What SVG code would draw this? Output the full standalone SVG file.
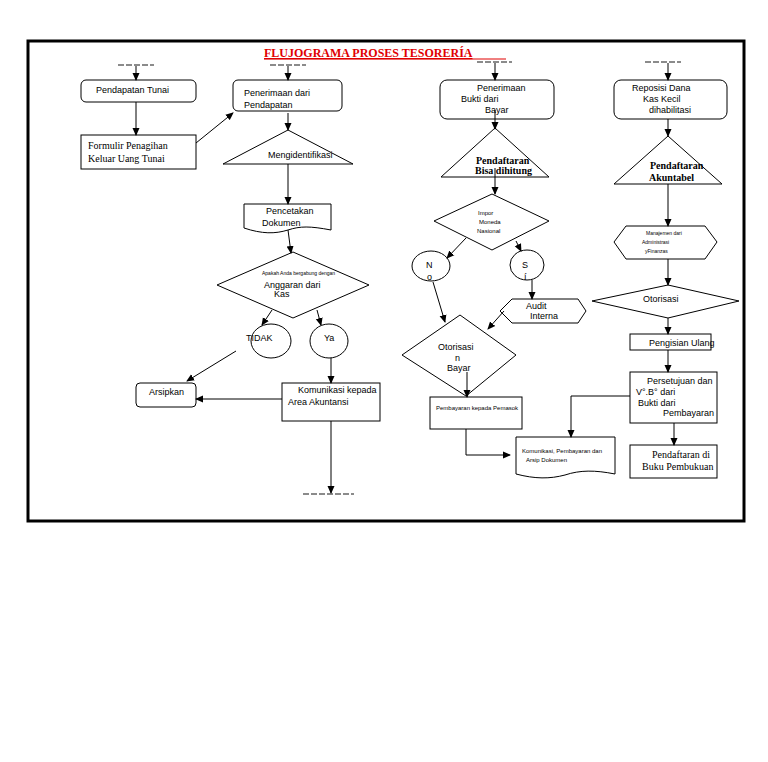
<svg xmlns="http://www.w3.org/2000/svg" width="768" height="762" viewBox="0 0 768 762">
<defs>
<marker id="ah" markerWidth="8" markerHeight="8" refX="7" refY="4" orient="auto" markerUnits="userSpaceOnUse"><path d="M0,0.5 L8,4 L0,7.5 z" fill="#000"/></marker>
<style>
.s{fill:#fff;stroke:#000;stroke-width:1}
.t{font-family:"Liberation Sans",Arial,sans-serif;font-size:9px;fill:#000}
.sm{font-size:6px}
.xs{font-size:5px}
.sf{font-family:"Liberation Serif","Times New Roman",serif;font-size:10px;fill:#000}
.b{font-weight:bold}
.c line,.c path,.c polyline{stroke:#000;stroke-width:1;fill:none}
.d{stroke:#666;stroke-width:1.5;stroke-dasharray:6,2;fill:none}
</style>
</defs>
<rect width="768" height="762" fill="#fff"/>
<rect x="28" y="41" width="716" height="480" fill="#fff" stroke="#000" stroke-width="3"/>
<text x="264" y="57" font-family="Liberation Serif,serif" font-size="12" font-weight="bold" fill="#e00000" text-decoration="underline">FLUJOGRAMA PROSES TESORERÍA</text>
<line x1="264" y1="59" x2="506" y2="59" stroke="#e00000" stroke-width="1"/>
<g id="dashes">
<line class="d" x1="118" y1="65" x2="154" y2="65"/><line class="d" x1="270" y1="65" x2="306" y2="65"/>
<line class="d" x1="477" y1="62" x2="512" y2="62"/><line class="d" x1="645" y1="62" x2="681" y2="62"/>
<line class="d" x1="303" y1="494" x2="354" y2="494"/>
</g>
<g id="n1"><rect class="s" x="81" y="80" width="115" height="22" rx="5"/><text class="t" x="96" y="93">Pendapatan Tunai</text></g>
<g id="n2"><rect class="s" x="81" y="135" width="115" height="34"/><text class="sf" x="88" y="149">Formulir Penagihan</text><text class="sf" x="88" y="162">Keluar Uang Tunai</text></g>
<g id="n3"><rect class="s" x="233" y="80" width="109" height="31" rx="5"/><text class="t" x="244" y="96">Penerimaan dari</text><text class="t" x="244" y="108">Pendapatan</text></g>
<g id="n4"><polygon class="s" points="288,130 353,164 223,164"/><text class="t" x="268" y="158">Mengidentifikasi</text></g>
<g id="n5"><path class="s" d="M244,204 H331 V230 C310,226 300,226 288,230 C275,234 262,234 244,228 Z"/><text class="t" x="266" y="214">Pencetakan</text><text class="t" x="262" y="226">Dokumen</text></g>
<g id="n6"><polygon class="s" points="293,252 369,285 293,318 217,285"/><text class="t xs" x="262" y="275">Apakah Anda bergabung dengan</text><text class="t" x="264" y="288">Anggaran dari</text><text class="t" x="274" y="297">Kas</text></g>
<g id="n7"><ellipse class="s" cx="271" cy="341" rx="20" ry="17"/><text class="t" x="246" y="341">TIDAK</text></g>
<g id="n8"><ellipse class="s" cx="329" cy="341" rx="19" ry="17"/><text class="t" x="324" y="341">Ya</text></g>
<g id="n9"><rect class="s" x="282" y="383" width="98" height="38"/><text class="t" x="298" y="393">Komunikasi kepada</text><text class="t" x="288" y="405">Area Akuntansi</text></g>
<g id="n10"><rect class="s" x="136" y="383" width="60" height="24" rx="4"/><text class="t" x="149" y="395">Arsipkan</text></g>
<g id="n11"><rect class="s" x="440" y="80" width="114" height="39" rx="7"/><text class="t" x="477" y="91">Penerimaan</text><text class="t" x="461" y="102">Bukti dari</text><text class="t" x="485" y="113">Bayar</text></g>
<g id="n12"><polygon class="s" points="495,128 549,177 441,177"/><text class="sf b" x="476" y="164" font-size="9">Pendaftaran</text><text class="sf b" x="475" y="174" font-size="9">Bisa dihitung</text></g>
<g id="n13"><polygon class="s" points="492,194 549,221 492,250 434,221"/><text class="t sm" x="478" y="215">Impor</text><text class="t sm" x="479" y="224">Moneda</text><text class="t sm" x="477" y="233">Nasional</text></g>
<g id="n14"><ellipse class="s" cx="431" cy="266" rx="19" ry="15"/><text class="t" x="426" y="268" font-size="11">N</text><text class="t" x="427" y="280" font-size="11">o</text></g>
<g id="n15"><ellipse class="s" cx="527" cy="265" rx="17" ry="15"/><text class="t" x="522" y="268" font-size="11">S</text><text class="t" x="524" y="280" font-size="11">í</text></g>
<g id="n16"><polygon class="s" points="500,311 512,299 578,299 586,311 578,323 512,323"/><text class="t" x="526" y="309">Audit</text><text class="t" x="530" y="319">Interna</text></g>
<g id="n17"><polygon class="s" points="460,315 516,355 466,396 402,355"/><text class="t" x="438" y="350">Otorisasi</text><text class="t" x="455" y="361">n</text><text class="t" x="447" y="371">Bayar</text></g>
<g id="n18"><rect class="s" x="430" y="397" width="92" height="32"/><text class="t sm" x="436" y="410">Pembayaran kepada Pemasok</text></g>
<g id="n19"><path class="s" d="M516,437 H615 V474 C595,470 580,470 565,475 C550,479 535,479 516,474 Z"/><text class="t sm" x="522" y="453">Komunikasi, Pembayaran dan</text><text class="t sm" x="526" y="462">Arsip Dokumen</text></g>
<g id="n20"><rect class="s" x="614" y="80" width="113" height="39" rx="7"/><text class="t" x="632" y="91">Reposisi Dana</text><text class="t" x="643" y="102">Kas Kecil</text><text class="t" x="649" y="113">dihabilitasi</text></g>
<g id="n21"><polygon class="s" points="668,136 722,184 614,184"/><text class="sf b" x="650" y="169" font-size="9">Pendaftaran</text><text class="sf b" x="649" y="181" font-size="9">Akuntabel</text></g>
<g id="n22"><polygon class="s" points="614,242 626,226 705,226 717,242 705,259 626,259"/><text class="t xs" x="646" y="235">Manajemen dari</text><text class="t xs" x="642" y="244">Administrasi</text><text class="t xs" x="645" y="253">yFinanzas</text></g>
<g id="n23"><polygon class="s" points="668,285 739,301 668,318 592,301"/><text class="t" x="643" y="302">Otorisasi</text></g>
<g id="n24"><rect class="s" x="630" y="334" width="81" height="16"/><text class="t" x="649" y="346">Pengisian Ulang</text></g>
<g id="n25"><rect class="s" x="630" y="372" width="87" height="51"/><text class="t" x="647" y="384">Persetujuan dan</text><text class="t" x="636" y="395">V°.B° dari</text><text class="t" x="638" y="406">Bukti dari</text><text class="t" x="663" y="416">Pembayaran</text></g>
<g id="n26"><rect class="s" x="630" y="445" width="87" height="33"/><text class="sf" x="652" y="458" font-size="9">Pendaftaran di</text><text class="sf" x="642" y="470" font-size="9">Buku  Pembukuan</text></g>
<g class="c" id="connectors">
<line x1="136" y1="66" x2="136" y2="80" marker-end="url(#ah)"/>
<line x1="136" y1="102" x2="136" y2="135" marker-end="url(#ah)"/>
<line x1="196" y1="143" x2="233" y2="113" marker-end="url(#ah)"/>
<line x1="288" y1="66" x2="288" y2="80" marker-end="url(#ah)"/>
<line x1="288" y1="113" x2="288" y2="130" marker-end="url(#ah)"/>
<line x1="288" y1="164" x2="288" y2="204" marker-end="url(#ah)"/>
<line x1="288" y1="230" x2="291" y2="253" marker-end="url(#ah)"/>
<line x1="272" y1="310" x2="262" y2="325" marker-end="url(#ah)"/>
<line x1="317" y1="310" x2="321" y2="325" marker-end="url(#ah)"/>
<line x1="331" y1="358" x2="331" y2="383" marker-end="url(#ah)"/>
<line x1="282" y1="399" x2="196" y2="399" marker-end="url(#ah)"/>
<line x1="236" y1="351" x2="187" y2="381" marker-end="url(#ah)"/>
<line x1="331" y1="421" x2="331" y2="493" marker-end="url(#ah)"/>
<line x1="495" y1="63" x2="495" y2="80" marker-end="url(#ah)"/>
<line x1="495" y1="110" x2="495" y2="129" marker-end="url(#ah)"/>
<line x1="495" y1="168" x2="495" y2="194" marker-end="url(#ah)"/>
<line x1="466" y1="238" x2="447" y2="258" marker-end="url(#ah)"/>
<line x1="516" y1="241" x2="521" y2="251" marker-end="url(#ah)"/>
<line x1="433" y1="282" x2="445" y2="322" marker-end="url(#ah)"/>
<line x1="532" y1="280" x2="532" y2="299" marker-end="url(#ah)"/>
<line x1="504" y1="311" x2="488" y2="329" marker-end="url(#ah)"/>
<line x1="467" y1="372" x2="467" y2="397" marker-end="url(#ah)"/>
<polyline points="466,429 466,455 510,455" marker-end="url(#ah)"/>
<polyline points="630,396 571,396 571,437" marker-end="url(#ah)"/>
<line x1="668" y1="63" x2="668" y2="80" marker-end="url(#ah)"/>
<line x1="668" y1="119" x2="668" y2="136" marker-end="url(#ah)"/>
<line x1="668" y1="184" x2="668" y2="226" marker-end="url(#ah)"/>
<line x1="668" y1="259" x2="668" y2="285" marker-end="url(#ah)"/>
<line x1="668" y1="318" x2="668" y2="334" marker-end="url(#ah)"/>
<line x1="668" y1="350" x2="668" y2="372" marker-end="url(#ah)"/>
<line x1="674" y1="423" x2="674" y2="445" marker-end="url(#ah)"/>
</g>
</svg>
